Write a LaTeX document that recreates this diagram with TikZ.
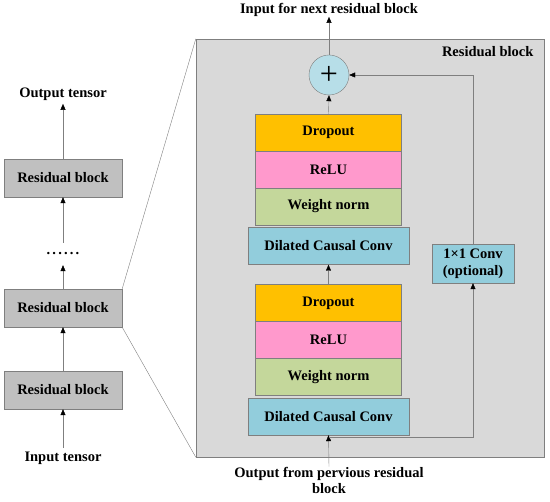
\documentclass[tikz,border=0pt]{standalone}
\usepackage{fontspec}
\setmainfont{Liberation Serif}
\usetikzlibrary{arrows.meta}
\definecolor{linegray}{HTML}{7F7F7F}
\definecolor{panelgray}{HTML}{D9D9D9}
\definecolor{blockgray}{HTML}{C0C0C0}
\definecolor{dropcol}{HTML}{FFC000}
\definecolor{relucol}{HTML}{FF99CC}
\definecolor{normcol}{HTML}{C4D79B}
\definecolor{convcol}{HTML}{92CDDC}
\definecolor{pluscol}{HTML}{B7DEE8}
\begin{document}
\begin{tikzpicture}[x=1pt,y=-1pt,
    every node/.style={font=\fontsize{14.5}{16}\selectfont\bfseries},
    blk/.style={draw=linegray,fill=blockgray,minimum width=118pt,minimum height=38pt,inner sep=0pt},
    layer/.style={draw=linegray,minimum width=146pt,minimum height=37pt,inner sep=0pt},
    conv/.style={layer,fill=convcol,minimum width=161pt},
    arr/.style={draw=linegray,-{Triangle[length=6pt,width=5pt,color=black]}}]
  \useasboundingbox (0,0) rectangle (550,502);
  % residual block panel
  \node[draw=linegray,fill=panelgray,minimum width=348pt,minimum height=418pt,inner sep=0pt] (panel) at (370,248) {};
  \node[anchor=east] (paneltitle) at (537,52) {Residual block};
  % left column
  \draw
    (63,94) node (outt){Output tensor}
    (63,178) node[blk] (rb3){Residual block}
    (63,254) node[minimum height=22pt,inner sep=0pt] (dots){.\hspace{2.2pt}.\hspace{2.2pt}.\hspace{2.2pt}.\hspace{2.2pt}.\hspace{2.2pt}.}
    (63,308) node[blk] (rb2){Residual block}
    (63,390) node[blk] (rb1){Residual block}
    (63,458) node (int){Input tensor};
  % inner stack
  \draw
    (329,75) node[circle,draw=linegray,fill=pluscol,minimum size=40pt,inner sep=0pt,font=\fontsize{32}{32}\selectfont] (plus){+}
    (328.5,132.5) node[layer,fill=dropcol] (drop2){Dropout}
    (328.5,169.5) node[layer,fill=relucol] (relu2){ReLU}
    (328.5,206.5) node[layer,fill=normcol] (norm2){Weight norm}
    (328.5,246) node[conv] (dcc2){Dilated Causal Conv}
    (328.5,303) node[layer,fill=dropcol] (drop1){Dropout}
    (328.5,340) node[layer,fill=relucol] (relu1){ReLU}
    (328.5,377) node[layer,fill=normcol] (norm1){Weight norm}
    (328.5,416.5) node[conv] (dcc1){Dilated Causal Conv}
    (473,263.5) node[conv,minimum width=82pt,minimum height=39pt,align=center,font=\fontsize{14.5}{17}\selectfont\bfseries] (skip){1\texttimes1 Conv\\(optional)}
    (329,10) node[inner sep=0pt] (nextin){Input for next residual block}
    (329,480) node[align=center,inner sep=0pt] (prevout){Output from pervious residual\\block};
  \coordinate (split) at (329,437);
  \begin{scope}[arr]
    \draw (rb3) to[shorten >=13pt] (outt);
    \draw (dots) to (rb3);
    \draw (rb2) to (dots);
    \draw (rb1) to (rb2);
    \draw (int) to[shorten <=4pt] (rb1);
    \draw (prevout.north) to[shorten <=-1pt] (dcc1.south);
    \draw (drop1.north) to (dcc2.south);
    \draw (drop2.north) to (plus.south);
    \draw (plus.north) to[shorten >=13pt] (nextin.south);
    \draw (split) -| (skip.south);
    \draw (skip.north) |- (plus.east);
  \end{scope}
  % zoom lines
  \draw[linegray] (rb2.north east) -- (panel.north west);
  \draw[linegray] (rb2.south east) -- (panel.south west);
\end{tikzpicture}
\end{document}
